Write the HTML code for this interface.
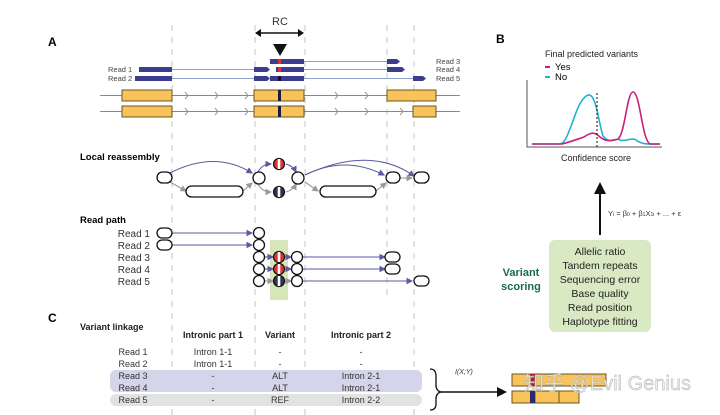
<!DOCTYPE html>
<html><head><meta charset="utf-8"><style>
html,body{margin:0;padding:0;background:#fff;}
svg{display:block;font-family:"Liberation Sans","Noto Sans CJK SC",sans-serif;}
</style></head><body>
<svg width="720" height="415" viewBox="0 0 720 415" xmlns="http://www.w3.org/2000/svg">
<defs>
<marker id="ap" markerWidth="6" markerHeight="6" refX="5" refY="3" orient="auto"><path d="M0,0 L6,3 L0,6 z" fill="#5a5aa0"/></marker>
<marker id="ag" markerWidth="6" markerHeight="6" refX="5" refY="3" orient="auto"><path d="M0,0 L6,3 L0,6 z" fill="#999"/></marker>
</defs>
<g stroke="#c4c4c4" stroke-width="1" stroke-dasharray="6,6">
<line x1="172" y1="25" x2="172" y2="415"/><line x1="255" y1="25" x2="255" y2="415"/>
<line x1="305" y1="25" x2="305" y2="415"/><line x1="387" y1="25" x2="387" y2="300"/>
<line x1="414" y1="25" x2="414" y2="415"/>
</g>
<text x="48" y="46" font-size="12" font-weight="bold">A</text>
<text x="280" y="25" font-size="11" text-anchor="middle" fill="#333">RC</text>
<line x1="258" y1="33" x2="301" y2="33" stroke="#111" stroke-width="1.5"/>
<path d="M255,33 l6,-4 v8z M304,33 l-6,-4 v8z" fill="#111"/>
<path d="M273,44 h14 l-7,12z" fill="#111"/>
<g fill="#3d3d8f">
<rect x="270" y="59" width="34" height="5"/><rect x="387" y="59" width="10" height="5"/><path d="M397,59 l3,2.5 -3,2.5z"/>
<rect x="139" y="67" width="33" height="5"/><rect x="254" y="67" width="13" height="5"/><path d="M267,67 l3,2.5 -3,2.5z"/>
<rect x="276" y="67" width="28" height="5"/><rect x="387" y="67" width="15" height="5"/><path d="M402,67 l3,2.5 -3,2.5z"/>
<rect x="135" y="76" width="37" height="5"/><rect x="254" y="76" width="13" height="5"/><path d="M267,76 l3,2.5 -3,2.5z"/>
<rect x="270" y="76" width="34" height="5"/><rect x="413" y="76" width="10" height="5"/><path d="M423,76 l3,2.5 -3,2.5z"/>
</g>
<rect x="278" y="59" width="3" height="5" fill="#d33"/><rect x="278" y="67" width="3" height="5" fill="#d33"/><rect x="278" y="76" width="3" height="5" fill="#113"/>
<g stroke="#8fa0c8" stroke-width="1"><line x1="304" y1="61.5" x2="387" y2="61.5"/><line x1="172" y1="69.5" x2="254" y2="69.5"/><line x1="304" y1="69.5" x2="387" y2="69.5"/><line x1="172" y1="78.5" x2="254" y2="78.5"/><line x1="304" y1="78.5" x2="413" y2="78.5"/></g>
<g font-size="7.5" fill="#444"><text x="108" y="72">Read 1</text><text x="108" y="81">Read 2</text><text x="436" y="64">Read 3</text><text x="436" y="72">Read 4</text><text x="436" y="81">Read 5</text></g>
<g stroke="#888" stroke-width="1"><line x1="100" y1="95.5" x2="460" y2="95.5"/><line x1="100" y1="111.5" x2="460" y2="111.5"/></g>
<g fill="none" stroke="#999" stroke-width="1">
<path d="M185,92 l3,3.5 -3,3.5 M215,92 l3,3.5 -3,3.5 M245,92 l3,3.5 -3,3.5 M335,92 l3,3.5 -3,3.5 M365,92 l3,3.5 -3,3.5"/>
<path d="M185,108 l3,3.5 -3,3.5 M215,108 l3,3.5 -3,3.5 M245,108 l3,3.5 -3,3.5 M335,108 l3,3.5 -3,3.5 M365,108 l3,3.5 -3,3.5 M400,108 l3,3.5 -3,3.5"/>
</g>
<g fill="#f8c45a" stroke="#6a5520" stroke-width="1">
<rect x="122" y="90" width="50" height="11"/><rect x="254" y="90" width="50" height="11"/><rect x="387" y="90" width="49" height="11"/>
<rect x="122" y="106" width="50" height="11"/><rect x="254" y="106" width="50" height="11"/><rect x="413" y="106" width="23" height="11"/>
</g>
<rect x="278" y="90" width="3" height="11" fill="#1a1a3a"/><rect x="278" y="106" width="3" height="11" fill="#1a1a3a"/>
<text x="80" y="160" font-size="9.5" font-weight="bold">Local reassembly</text>
<g fill="none" stroke-width="1.1">
<path d="M170,173 Q215,150 252,173" stroke="#5a5aa0" marker-end="url(#ap)"/>
<path d="M170,182 L186,191" stroke="#999" marker-end="url(#ag)"/>
<path d="M243,191 L252,183" stroke="#999" marker-end="url(#ag)"/>
<path d="M258,172 Q262,164 271,164" stroke="#5a5aa0" marker-end="url(#ap)"/>
<path d="M258,184 Q262,192 271,192" stroke="#999" marker-end="url(#ag)"/>
<path d="M286,164 Q293,166 296,172" stroke="#5a5aa0" marker-end="url(#ap)"/>
<path d="M286,192 Q293,190 296,184" stroke="#999" marker-end="url(#ag)"/>
<path d="M305,175 Q345,155 384,175" stroke="#5a5aa0" marker-end="url(#ap)"/>
<path d="M305,175 Q370,145 414,176" stroke="#5a5aa0" marker-end="url(#ap)"/>
<path d="M305,182 L318,191" stroke="#999" marker-end="url(#ag)"/>
<path d="M376,191 L386,183" stroke="#999" marker-end="url(#ag)"/>
<path d="M400,178 L412,178" stroke="#999" marker-end="url(#ag)"/>
</g>
<g fill="#fff" stroke="#111" stroke-width="1.3">
<rect x="157" y="172" width="15" height="11" rx="5.5"/><rect x="186" y="186" width="57" height="11" rx="5.5"/>
<circle cx="259" cy="178" r="6"/><circle cx="298" cy="178" r="6"/>
<rect x="320" y="186" width="56" height="11" rx="5.5"/><rect x="386" y="172" width="14" height="11" rx="5.5"/><rect x="414" y="172" width="15" height="11" rx="5.5"/>
</g>
<g stroke="#111" stroke-width="1.2"><circle cx="279" cy="164" r="5.5" fill="#d33"/><circle cx="279" cy="192" r="5.5" fill="#335"/></g>
<g fill="#fff"><rect x="277.7" y="159" width="2.6" height="10"/><rect x="277.7" y="187" width="2.6" height="10"/></g>
<text x="80" y="223" font-size="9.5" font-weight="bold">Read path</text>
<rect x="270" y="240" width="18" height="60" fill="#d7e6b8"/>
<g font-size="10" fill="#333" text-anchor="end"><text x="150" y="237">Read 1</text><text x="150" y="249">Read 2</text><text x="150" y="261">Read 3</text><text x="150" y="273">Read 4</text><text x="150" y="285">Read 5</text></g>
<g fill="none" stroke-width="1.1">
<line x1="172" y1="233" x2="252" y2="233" stroke="#5a5aa0" marker-end="url(#ap)"/>
<line x1="172" y1="245" x2="252" y2="245" stroke="#5a5aa0" marker-end="url(#ap)"/>
<line x1="265" y1="257" x2="273" y2="257" stroke="#5a5aa0" marker-end="url(#ap)"/>
<line x1="265" y1="269" x2="273" y2="269" stroke="#5a5aa0" marker-end="url(#ap)"/>
<line x1="265" y1="281" x2="273" y2="281" stroke="#999" marker-end="url(#ag)"/>
<line x1="285" y1="257" x2="291" y2="257" stroke="#5a5aa0" marker-end="url(#ap)"/>
<line x1="285" y1="269" x2="291" y2="269" stroke="#5a5aa0" marker-end="url(#ap)"/>
<line x1="285" y1="281" x2="291" y2="281" stroke="#999" marker-end="url(#ag)"/>
<line x1="303" y1="257" x2="385" y2="257" stroke="#5a5aa0" marker-end="url(#ap)"/>
<line x1="303" y1="269" x2="385" y2="269" stroke="#5a5aa0" marker-end="url(#ap)"/>
<line x1="303" y1="281" x2="412" y2="281" stroke="#5a5aa0" marker-end="url(#ap)"/>
</g>
<g fill="#fff" stroke="#111" stroke-width="1.3">
<rect x="157" y="228" width="15" height="10" rx="5"/><rect x="157" y="240" width="15" height="10" rx="5"/>
<circle cx="259" cy="233" r="5.5"/><circle cx="259" cy="245" r="5.5"/><circle cx="259" cy="257" r="5.5"/><circle cx="259" cy="269" r="5.5"/><circle cx="259" cy="281" r="5.5"/>
<circle cx="297" cy="257" r="5.5"/><circle cx="297" cy="269" r="5.5"/><circle cx="297" cy="281" r="5.5"/>
<rect x="385" y="252" width="15" height="10" rx="5"/><rect x="385" y="264" width="15" height="10" rx="5"/><rect x="414" y="276" width="15" height="10" rx="5"/>
</g>
<g stroke="#111" stroke-width="1.2"><circle cx="279" cy="257" r="5.5" fill="#d33"/><circle cx="279" cy="269" r="5.5" fill="#d33"/><circle cx="279" cy="281" r="5.5" fill="#335"/></g>
<g fill="#fff"><rect x="277.7" y="252" width="2.6" height="10"/><rect x="277.7" y="264" width="2.6" height="10"/><rect x="277.7" y="276" width="2.6" height="10"/></g>
<text x="48" y="322" font-size="12" font-weight="bold">C</text>
<text x="80" y="330" font-size="9" font-weight="bold" fill="#222">Variant linkage</text>
<rect x="110" y="370" width="312" height="22" rx="6" fill="#d4d4ea"/>
<rect x="110" y="394" width="312" height="12" rx="6" fill="#e2e2e2"/>
<g font-size="9" font-weight="bold" text-anchor="middle" fill="#222"><text x="213" y="338">Intronic part 1</text><text x="280" y="338">Variant</text><text x="361" y="338">Intronic part 2</text></g>
<g font-size="9" fill="#333" text-anchor="middle">
<text x="133" y="355">Read 1</text><text x="213" y="355">Intron 1-1</text><text x="280" y="355">-</text><text x="361" y="355">-</text>
<text x="133" y="367">Read 2</text><text x="213" y="367">Intron 1-1</text><text x="280" y="367">-</text><text x="361" y="367">-</text>
<text x="133" y="379">Read 3</text><text x="213" y="379">-</text><text x="280" y="379">ALT</text><text x="361" y="379">Intron 2-1</text>
<text x="133" y="391">Read 4</text><text x="213" y="391">-</text><text x="280" y="391">ALT</text><text x="361" y="391">Intron 2-1</text>
<text x="133" y="403">Read 5</text><text x="213" y="403">-</text><text x="280" y="403">REF</text><text x="361" y="403">Intron 2-2</text>
</g>
<path d="M430,369 Q436,369 436,376 V385 Q436,391 441,392 Q436,393 436,399 V404 Q436,410 430,410" fill="none" stroke="#111" stroke-width="1.3"/>
<line x1="441" y1="392" x2="498" y2="392" stroke="#111" stroke-width="1.5"/>
<path d="M507,392 l-10,-5 v10z" fill="#111"/>
<text x="455" y="374" font-size="7" fill="#333" font-style="italic">I(X;Y)</text>
<g fill="#f8c45a" stroke="#6a5520" stroke-width="1">
<rect x="512" y="374" width="22" height="12"/><rect x="534" y="374" width="72" height="12"/>
<rect x="512" y="391" width="23" height="12"/><rect x="535" y="391" width="24" height="12"/><rect x="559" y="391" width="20" height="12"/>
</g>
<rect x="530" y="374" width="5" height="12" fill="#b02030"/><rect x="530" y="391" width="5" height="12" fill="#2a2a6a"/>
<text x="524" y="390" font-size="20" fill="#e8e8e8" fill-opacity="0.85" stroke="#aaa" stroke-width="0.4">知乎 @Evil Genius</text>
<text x="496" y="43" font-size="12" font-weight="bold">B</text>
<text x="545" y="57" font-size="9" fill="#222">Final predicted variants</text>
<line x1="545" y1="67" x2="550" y2="67" stroke="#c8207a" stroke-width="2"/><text x="555" y="70" font-size="9.5">Yes</text>
<line x1="545" y1="77" x2="550" y2="77" stroke="#25b0d0" stroke-width="2"/><text x="555" y="80" font-size="9.5">No</text>
<polyline points="527,80 527,147 662,147" fill="none" stroke="#555" stroke-width="1"/>
<path d="M532,144 L560,144 C570,143 575,100 588,95 C596,93 598,120 603,136 C610,145 615,137 620,140 C625,142 632,137 636,140 C642,145 650,144 660,144" fill="none" stroke="#25b0d0" stroke-width="1.6"/>
<path d="M532,144 L562,144 C570,142 578,139 584,137 C590,133 594,131 600,137 C606,142 612,141 618,139 C625,134 627,92 633,92 C640,92 642,140 650,144 L660,144" fill="none" stroke="#c8207a" stroke-width="1.6"/>
<line x1="597" y1="93" x2="597" y2="147" stroke="#111" stroke-width="1" stroke-dasharray="2,2"/>
<text x="596" y="161" font-size="9" text-anchor="middle" fill="#222">Confidence score</text>
<line x1="600" y1="235" x2="600" y2="192" stroke="#111" stroke-width="2"/>
<path d="M600,182 l-6,12 h12z" fill="#111"/>
<text x="608" y="216" font-size="7.5" fill="#333">Y<tspan font-size="5">i</tspan> = β<tspan font-size="5">0</tspan> + β<tspan font-size="5">1</tspan>X<tspan font-size="5">1i</tspan> + ... + ε</text>
<rect x="549" y="240" width="102" height="92" rx="6" fill="#d9e9c3"/>
<g font-size="10.5" text-anchor="middle" fill="#222">
<text x="600" y="255">Allelic ratio</text><text x="600" y="269">Tandem repeats</text><text x="600" y="283">Sequencing error</text>
<text x="600" y="297">Base quality</text><text x="600" y="311">Read position</text><text x="600" y="325">Haplotype fitting</text>
</g>
<g font-size="11" font-weight="bold" fill="#1a6a50" text-anchor="middle"><text x="521" y="276">Variant</text><text x="521" y="290">scoring</text></g>
</svg>
</body></html>
